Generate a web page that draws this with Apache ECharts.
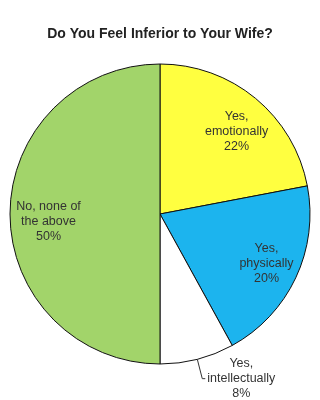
<!DOCTYPE html>
<html>
<head>
<meta charset="utf-8">
<script src="https://cdn.jsdelivr.net/npm/echarts@6/dist/echarts.min.js"></script>
<style>
html,body{margin:0;padding:0;background:#fff;}
#chart{width:320px;height:400px;}
</style>
</head>
<body>
<div id="chart"></div>
<script>
const titleText = 'Do You Feel Inferior to Your Wife?';
const categories = ['Yes,\nemotionally', 'Yes,\nphysically', 'Yes,\nintellectually', 'No, none of\nthe above'];
const values = [22, 20, 8, 50];
const sliceColors = ['#ffff40', '#1cb4ee', '#ffffff', '#a2d46a'];
const outsideIndex = 2;
const labelPads = [[14, 0, 0, 6], [0, 0, 0, 4], [0, 0, 0, 0], [16, 0, 0, 8]];

const chart = echarts.init(document.getElementById('chart'), null, {renderer: 'canvas'});

function fmt(p) {
  const lines = categories[p.dataIndex].split('\n').concat([p.value + '%']);
  return lines.map(l => '{c|' + l + '}').join('\n');
}

const center = [160, 214];
const font = {fontFamily: 'Liberation Sans, Arial, sans-serif', fontSize: 12.5, color: '#333', lineHeight: 15};

const pieData = categories.map((c, i) => ({
  name: c, value: values[i],
  itemStyle: {color: sliceColors[i]}
}));

const labelData = categories.map((c, i) => ({
  name: c, value: values[i],
  label: i === outsideIndex ? {position: 'outside'} : {position: 'inside', padding: labelPads[i]},
  labelLine: {show: i === outsideIndex}
}));

chart.setOption({
  backgroundColor: '#ffffff',
  animation: false,
  title: {
    text: titleText,
    left: 'center',
    top: 22,
    textStyle: {fontFamily: 'Liberation Sans, Arial, sans-serif', fontSize: 14, fontWeight: 'bold', color: '#222'}
  },
  series: [
    {
      type: 'pie',
      center: center,
      radius: [0, 150],
      startAngle: 90,
      clockwise: true,
      silent: true,
      avoidLabelOverlap: false,
      label: {show: false},
      labelLine: {show: false},
      itemStyle: {borderColor: '#111', borderWidth: 1},
      emphasis: {disabled: true},
      data: pieData
    },
    {
      type: 'pie',
      center: center,
      radius: [75, 150],
      startAngle: 90,
      clockwise: true,
      silent: true,
      avoidLabelOverlap: false,
      itemStyle: {color: 'rgba(0,0,0,0)', borderWidth: 0},
      emphasis: {disabled: true},
      label: {
        show: true,
        formatter: fmt,
        distanceToLabelLine: 2,
        rich: {c: Object.assign({align: 'center'}, font)}
      },
      labelLine: {
        length: 20,
        length2: 3,
        lineStyle: {color: '#333', width: 1}
      },
      data: labelData
    }
  ]
});
</script>
</body>
</html>
